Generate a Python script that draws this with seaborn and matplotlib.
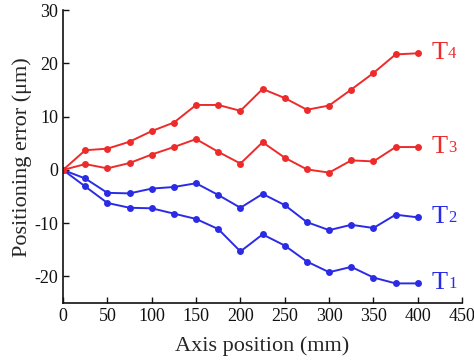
import numpy as np
import pandas as pd
import seaborn as sns
import matplotlib.pyplot as plt

# Dane
positions = [0, 25, 50, 75, 100, 125, 150, 175, 200, 225, 250, 275, 300, 325, 350, 375, 400]
t1 = [0, -3.1, -6.2, -7.1, -7.2, -8.2, -9.2, -11.1, -15.3, -12.1, -14.2, -17.2, -19.2, -18.2, -20.2, -21.3, -21.3]
t2 = [0, -1.6, -4.3, -4.4, -3.5, -3.2, -2.5, -4.7, -7.1, -4.5, -6.6, -9.8, -11.3, -10.3, -10.9, -8.4, -8.9]
t3 = [0, 1.1, 0.3, 1.3, 2.9, 4.3, 5.8, 3.4, 1.2, 5.2, 2.3, 0.1, -0.5, 1.8, 1.6, 4.3, 4.3]
t4 = [0, 3.7, 4.0, 5.3, 7.3, 8.9, 12.2, 12.2, 11.1, 15.2, 13.5, 11.3, 12.1, 15.1, 18.2, 21.7, 21.9]

series_names = ["T1", "T2", "T3", "T4"]
series_values = [t1, t2, t3, t4]
RED = "#ee2b2b"
BLUE = "#2b2be6"
colors = {"T1": BLUE, "T2": BLUE, "T3": RED, "T4": RED}

rows = []
for name, vals in zip(series_names, series_values):
    for x, y in zip(positions, vals):
        rows.append({"pos": x, "err": y, "series": name})
df = pd.DataFrame(rows)

sns.set_style("ticks")
plt.rcParams["font.family"] = ["Liberation Serif", "DejaVu Serif"]

fig = plt.figure(figsize=(4.74, 3.63), dpi=100)
ax = fig.add_axes([0.133, 0.165, 0.842, 0.807])

sns.lineplot(data=df, x="pos", y="err", hue="series", palette=colors,
             marker="o", markersize=5, markeredgewidth=0, linewidth=1.4,
             legend=False, ax=ax)

# Etykiety serii T1..T4
for name, vals in zip(series_names, series_values):
    t = ax.text(416, vals[-1], name[0], color=colors[name], fontsize=19,
                va="center", ha="left")
    ax.annotate(name[1], xy=(1, 0), xycoords=t, color=colors[name],
                fontsize=12, va="bottom", ha="left", xytext=(0, 1.5),
                textcoords="offset points")

ax.set_xlim(0, 450)
ax.set_ylim(-25, 30)
ax.set_xticks(range(0, 451, 50))
ax.set_yticks(range(-20, 31, 10))
ax.set_yticklabels([str(v) for v in range(-20, 31, 10)])
ax.tick_params(direction="in", length=4, width=1, labelsize=13, colors="#111111")
for s in ["left", "bottom"]:
    ax.spines[s].set_linewidth(1.2)
    ax.spines[s].set_color("#111111")
sns.despine(ax=ax)

ax.set_xlabel("Axis position (mm)", fontsize=16, labelpad=8)
ax.set_ylabel("Positioning error (\u03bcm)", fontsize=16, labelpad=2)

fig.savefig("out.png", dpi=100)
